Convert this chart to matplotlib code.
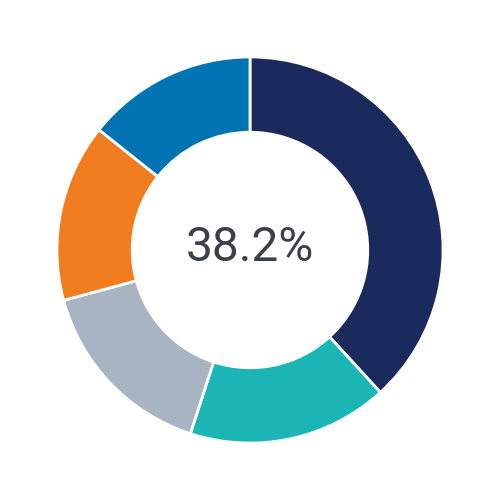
import matplotlib
matplotlib.use("Agg")
from matplotlib import pyplot as plt

# shares, clockwise from 12 o'clock
labels = ["A", "B", "C", "D", "E"]
values = [38.2, 16.8, 15.8, 14.9, 14.3]
colors = ["#1b2a5c", "#1cb5b5", "#a9b4c2", "#f27d20", "#0074b3"]
center_text = "38.2%"

fig = plt.figure(figsize=(5, 5), dpi=100)
ax = fig.add_axes([0, 0, 1, 1])

ax.pie(values, colors=colors, startangle=90, counterclock=False,
       radius=1.0,
       wedgeprops=dict(width=0.39, edgecolor="white", linewidth=2))

ax.text(0, 0.01, center_text, ha="center", va="center", fontsize=34.5,
        color="#3b3f48", family="Roboto")

ax.set_xlim(-1.295, 1.295)
ax.set_ylim(-1.295, 1.295)
ax.set_aspect("equal")
ax.axis("off")

fig.savefig("out.png", dpi=100, facecolor="white")
